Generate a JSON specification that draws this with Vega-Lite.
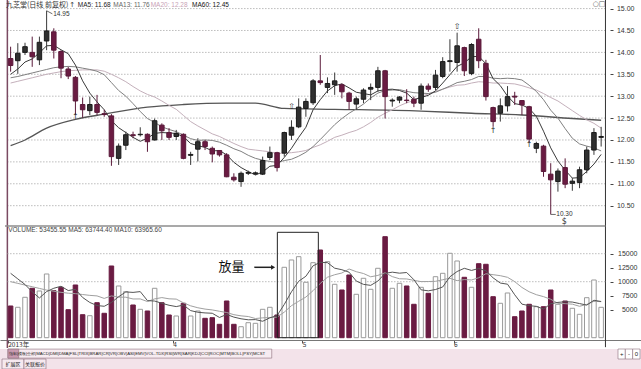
{
"$schema": "https://vega.github.io/schema/vega-lite/v6.json",
"width": 641, "height": 369,
"autosize": {"type": "none"},
"padding": 0,
"background": "#ffffff",
"config": {"view": {"stroke": null}, "font": "Liberation Sans"},
"datasets": {
"k": [
{"i":0,"o":13.86,"h":14.13,"l":13.56,"c":13.70,"v":5662,"m5":13.50,"m13":13.42,"m20":13.30,"a5":11500,"a10":10000},
{"i":1,"o":13.81,"h":14.21,"l":13.51,"c":13.98,"v":5430,"m5":13.62,"m13":13.45,"m20":13.34,"a5":10500,"a10":9700},
{"i":2,"o":14.00,"h":14.22,"l":13.94,"c":14.13,"v":7215,"m5":13.78,"m13":13.49,"m20":13.38,"a5":9500,"a10":9400},
{"i":3,"o":14.00,"h":14.36,"l":13.67,"c":13.90,"v":8823,"m5":13.85,"m13":13.53,"m20":13.42,"a5":8200,"a10":9100},
{"i":4,"o":13.83,"h":14.36,"l":13.71,"c":14.23,"v":8340,"m5":13.99,"m13":13.57,"m20":13.46,"a5":7094,"a10":8800},
{"i":5,"o":14.26,"h":14.95,"l":14.05,"c":14.49,"v":11377,"m5":14.15,"m13":13.61,"m20":13.50,"a5":8237,"a10":8500},
{"i":6,"o":14.47,"h":14.55,"l":13.86,"c":14.05,"v":8394,"m5":14.16,"m13":13.65,"m20":13.53,"a5":8830,"a10":8300},
{"i":7,"o":14.02,"h":14.05,"l":13.41,"c":13.64,"v":9000,"m5":14.06,"m13":13.67,"m20":13.56,"a5":9187,"a10":8100},
{"i":8,"o":13.62,"h":13.67,"l":13.39,"c":13.46,"v":5000,"m5":13.97,"m13":13.68,"m20":13.58,"a5":8422,"a10":7950},
{"i":9,"o":13.43,"h":13.46,"l":12.57,"c":12.89,"v":9412,"m5":13.71,"m13":13.67,"m20":13.59,"a5":8637,"a10":7865},
{"i":10,"o":12.81,"h":12.97,"l":12.51,"c":12.69,"v":4108,"m5":13.35,"m13":13.64,"m20":13.60,"a5":7183,"a10":7710},
{"i":11,"o":12.67,"h":12.99,"l":12.57,"c":12.81,"v":3929,"m5":13.07,"m13":13.61,"m20":13.60,"a5":6290,"a10":7560},
{"i":12,"o":12.81,"h":13.03,"l":12.57,"c":12.63,"v":6251,"m5":12.87,"m13":13.57,"m20":13.60,"a5":5740,"a10":7463},
{"i":13,"o":12.60,"h":12.69,"l":12.53,"c":12.58,"v":4358,"m5":12.69,"m13":13.49,"m20":13.57,"a5":5612,"a10":7017},
{"i":14,"o":12.55,"h":12.59,"l":11.41,"c":11.62,"v":12805,"m5":12.44,"m13":13.31,"m20":13.50,"a5":6290,"a10":7463},
{"i":15,"o":11.58,"h":11.92,"l":11.43,"c":11.86,"v":9234,"m5":12.28,"m13":13.13,"m20":13.42,"a5":7315,"a10":7249},
{"i":16,"o":11.88,"h":12.19,"l":11.77,"c":12.12,"v":8216,"m5":12.17,"m13":13.00,"m20":13.33,"a5":8173,"a10":7231},
{"i":17,"o":12.12,"h":12.19,"l":12.04,"c":12.10,"v":5840,"m5":12.06,"m13":12.83,"m20":13.22,"a5":8091,"a10":6915},
{"i":18,"o":12.12,"h":12.29,"l":12.08,"c":12.13,"v":5072,"m5":11.97,"m13":12.65,"m20":13.12,"a5":8233,"a10":6923},
{"i":19,"o":12.13,"h":12.15,"l":11.73,"c":11.96,"v":4769,"m5":12.04,"m13":12.49,"m20":13.04,"a5":6626,"a10":6458},
{"i":20,"o":12.00,"h":12.49,"l":11.99,"c":12.44,"v":8823,"m5":12.15,"m13":12.40,"m20":12.98,"a5":6544,"a10":6930},
{"i":21,"o":12.34,"h":12.38,"l":12.00,"c":12.21,"v":6251,"m5":12.17,"m13":12.30,"m20":12.89,"a5":6151,"a10":7162},
{"i":22,"o":12.17,"h":12.27,"l":12.00,"c":12.06,"v":4054,"m5":12.16,"m13":12.24,"m20":12.79,"a5":5794,"a10":6942},
{"i":23,"o":12.08,"h":12.23,"l":12.00,"c":12.15,"v":3876,"m5":12.15,"m13":12.19,"m20":12.70,"a5":5555,"a10":6894},
{"i":24,"o":12.13,"h":12.15,"l":11.56,"c":11.58,"v":6144,"m5":12.07,"m13":12.11,"m20":12.56,"a5":5830,"a10":6228},
{"i":25,"o":11.65,"h":11.73,"l":11.43,"c":11.67,"v":3876,"m5":11.92,"m13":12.03,"m20":12.42,"a5":4840,"a10":5692},
{"i":26,"o":11.79,"h":12.04,"l":11.51,"c":11.96,"v":4769,"m5":11.87,"m13":11.99,"m20":12.32,"a5":4544,"a10":5347},
{"i":27,"o":11.96,"h":12.00,"l":11.77,"c":11.85,"v":3465,"m5":11.83,"m13":12.00,"m20":12.23,"a5":4426,"a10":5110},
{"i":28,"o":11.81,"h":11.85,"l":11.49,"c":11.68,"v":3572,"m5":11.75,"m13":11.99,"m20":12.14,"a5":4365,"a10":4960},
{"i":29,"o":11.76,"h":11.77,"l":11.62,"c":11.66,"v":2393,"m5":11.76,"m13":11.95,"m20":12.08,"a5":3615,"a10":4722},
{"i":30,"o":11.66,"h":11.70,"l":11.15,"c":11.16,"v":6555,"m5":11.66,"m13":11.88,"m20":12.00,"a5":4151,"a10":4496},
{"i":31,"o":11.15,"h":11.24,"l":11.05,"c":11.09,"v":2393,"m5":11.49,"m13":11.80,"m20":11.92,"a5":3676,"a10":4110},
{"i":32,"o":11.05,"h":11.28,"l":10.93,"c":11.24,"v":1965,"m5":11.37,"m13":11.74,"m20":11.85,"a5":3376,"a10":3901},
{"i":33,"o":11.24,"h":11.30,"l":11.20,"c":11.26,"v":2679,"m5":11.28,"m13":11.65,"m20":11.79,"a5":3197,"a10":3781},
{"i":34,"o":11.23,"h":11.28,"l":11.20,"c":11.25,"v":2572,"m5":11.20,"m13":11.58,"m20":11.77,"a5":3233,"a10":3424},
{"i":35,"o":11.22,"h":11.62,"l":11.20,"c":11.53,"v":5072,"m5":11.27,"m13":11.54,"m20":11.75,"a5":2936,"a10":3544},
{"i":36,"o":11.60,"h":11.85,"l":11.54,"c":11.71,"v":5430,"m5":11.40,"m13":11.51,"m20":11.73,"a5":3544,"a10":3610},
{"i":37,"o":11.71,"h":11.73,"l":11.28,"c":11.37,"v":4054,"m5":11.42,"m13":11.49,"m20":11.69,"a5":3961,"a10":3669},
{"i":38,"o":11.70,"h":12.19,"l":11.62,"c":12.17,"v":12573,"m5":11.60,"m13":11.53,"m20":11.70,"a5":5940,"a10":4569},
{"i":39,"o":12.11,"h":12.45,"l":12.00,"c":12.29,"v":13877,"m5":11.81,"m13":11.56,"m20":11.71,"a5":8201,"a10":5717},
{"i":40,"o":12.30,"h":12.95,"l":12.27,"c":12.75,"v":14467,"m5":12.06,"m13":11.63,"m20":11.73,"a5":10080,"a10":6508},
{"i":41,"o":12.72,"h":12.95,"l":12.53,"c":12.88,"v":9894,"m5":12.29,"m13":11.72,"m20":11.76,"a5":10973,"a10":7258},
{"i":42,"o":12.85,"h":13.39,"l":12.80,"c":13.35,"v":13395,"m5":12.69,"m13":11.85,"m20":11.83,"a5":12841,"a10":8401},
{"i":43,"o":13.35,"h":13.94,"l":13.26,"c":13.31,"v":15663,"m5":12.92,"m13":12.01,"m20":11.89,"a5":13459,"a10":9700},
{"i":44,"o":13.20,"h":13.43,"l":13.07,"c":13.29,"v":13574,"m5":13.12,"m13":12.18,"m20":11.97,"a5":13399,"a10":10800},
{"i":45,"o":13.26,"h":13.54,"l":13.03,"c":13.35,"v":9537,"m5":13.24,"m13":12.35,"m20":12.06,"a5":12413,"a10":11246},
{"i":46,"o":13.26,"h":13.29,"l":12.95,"c":13.10,"v":8519,"m5":13.28,"m13":12.49,"m20":12.11,"a5":12138,"a10":11555},
{"i":47,"o":13.07,"h":13.10,"l":12.69,"c":12.88,"v":11198,"m5":13.19,"m13":12.61,"m20":12.17,"a5":11698,"a10":12270},
{"i":48,"o":12.82,"h":12.99,"l":12.69,"c":12.94,"v":7751,"m5":13.09,"m13":12.71,"m20":12.22,"a5":10116,"a10":11788},
{"i":49,"o":12.93,"h":13.18,"l":12.84,"c":13.14,"v":10609,"m5":13.06,"m13":12.82,"m20":12.30,"a5":9523,"a10":11461},
{"i":50,"o":13.16,"h":13.29,"l":12.91,"c":13.20,"v":8644,"m5":13.03,"m13":12.96,"m20":12.40,"a5":9344,"a10":10878},
{"i":51,"o":13.20,"h":13.67,"l":13.10,"c":13.58,"v":12395,"m5":13.12,"m13":13.07,"m20":12.52,"a5":10119,"a10":11129},
{"i":52,"o":13.58,"h":13.60,"l":12.49,"c":12.99,"v":18039,"m5":13.15,"m13":13.13,"m20":12.61,"a5":11488,"a10":11593},
{"i":53,"o":12.89,"h":12.95,"l":12.76,"c":12.91,"v":8823,"m5":13.16,"m13":13.14,"m20":12.69,"a5":11702,"a10":10909},
{"i":54,"o":12.91,"h":13.00,"l":12.84,"c":12.98,"v":9716,"m5":13.13,"m13":13.15,"m20":12.78,"a5":11523,"a10":10523},
{"i":55,"o":12.91,"h":13.16,"l":12.84,"c":12.90,"v":9234,"m5":13.07,"m13":13.11,"m20":12.85,"a5":11641,"a10":10493},
{"i":56,"o":12.93,"h":12.99,"l":12.75,"c":12.84,"v":5965,"m5":12.92,"m13":13.08,"m20":12.90,"a5":10355,"a10":10237},
{"i":57,"o":12.84,"h":13.29,"l":12.69,"c":13.23,"v":9000,"m5":12.97,"m13":13.07,"m20":13.00,"a5":8548,"a10":10018},
{"i":58,"o":13.23,"h":13.29,"l":13.10,"c":13.16,"v":7925,"m5":13.02,"m13":13.06,"m20":13.05,"a5":8368,"a10":10035},
{"i":59,"o":13.20,"h":13.60,"l":13.14,"c":13.48,"v":10895,"m5":13.12,"m13":13.09,"m20":13.11,"a5":8604,"a10":10064},
{"i":60,"o":13.45,"h":13.89,"l":13.41,"c":13.79,"v":11500,"m5":13.30,"m13":13.16,"m20":13.16,"a5":9057,"a10":10349},
{"i":61,"o":13.79,"h":14.30,"l":13.56,"c":13.81,"v":15074,"m5":13.49,"m13":13.23,"m20":13.21,"a5":10879,"a10":10617},
{"i":62,"o":13.77,"h":14.45,"l":13.56,"c":14.15,"v":13699,"m5":13.68,"m13":13.31,"m20":13.25,"a5":11819,"a10":10183},
{"i":63,"o":14.11,"h":14.13,"l":13.46,"c":13.58,"v":10787,"m5":13.76,"m13":13.34,"m20":13.26,"a5":12391,"a10":10380},
{"i":64,"o":13.52,"h":14.21,"l":13.48,"c":14.18,"v":9001,"m5":13.90,"m13":13.38,"m20":13.30,"a5":12012,"a10":10308},
{"i":65,"o":14.30,"h":14.55,"l":13.64,"c":13.81,"v":13216,"m5":13.91,"m13":13.45,"m20":13.33,"a5":12355,"a10":10706},
{"i":66,"o":13.75,"h":13.83,"l":12.90,"c":12.99,"v":13109,"m5":13.74,"m13":13.45,"m20":13.32,"a5":11962,"a10":11421},
{"i":67,"o":12.74,"h":12.76,"l":12.30,"c":12.42,"v":7323,"m5":13.40,"m13":13.41,"m20":13.30,"a5":10687,"a10":11253},
{"i":68,"o":12.61,"h":12.95,"l":12.42,"c":12.78,"v":6144,"m5":13.24,"m13":13.40,"m20":13.30,"a5":9759,"a10":11075},
{"i":69,"o":12.78,"h":13.23,"l":12.65,"c":12.99,"v":7983,"m5":13.00,"m13":13.41,"m20":13.29,"a5":9555,"a10":10784},
{"i":70,"o":13.00,"h":13.10,"l":12.80,"c":12.98,"v":3751,"m5":12.83,"m13":13.40,"m20":13.28,"a5":7662,"a10":10009},
{"i":71,"o":12.90,"h":12.91,"l":12.57,"c":12.80,"v":4769,"m5":12.80,"m13":13.37,"m20":13.24,"a5":5994,"a10":8978},
{"i":72,"o":12.76,"h":12.78,"l":11.94,"c":12.02,"v":5965,"m5":12.72,"m13":13.25,"m20":13.19,"a5":5722,"a10":8205},
{"i":73,"o":11.81,"h":11.96,"l":11.70,"c":11.92,"v":5537,"m5":12.54,"m13":13.11,"m20":13.14,"a5":5601,"a10":7680},
{"i":74,"o":11.86,"h":11.89,"l":11.16,"c":11.28,"v":5537,"m5":12.20,"m13":12.92,"m20":13.06,"a5":5112,"a10":7333},
{"i":75,"o":11.22,"h":11.47,"l":10.30,"c":11.09,"v":8519,"m5":11.82,"m13":12.68,"m20":12.97,"a5":6065,"a10":6864},
{"i":76,"o":11.05,"h":11.35,"l":10.82,"c":11.29,"v":5965,"m5":11.52,"m13":12.50,"m20":12.89,"a5":6305,"a10":6149},
{"i":77,"o":11.37,"h":11.58,"l":10.90,"c":10.99,"v":6555,"m5":11.31,"m13":12.26,"m20":12.78,"a5":6423,"a10":6079},
{"i":78,"o":11.01,"h":11.13,"l":10.84,"c":11.06,"v":5251,"m5":11.13,"m13":12.04,"m20":12.67,"a5":6365,"a10":5989},
{"i":79,"o":11.03,"h":11.39,"l":10.90,"c":11.32,"v":4179,"m5":11.14,"m13":11.91,"m20":12.56,"a5":6094,"a10":5608},
{"i":80,"o":11.32,"h":11.85,"l":11.24,"c":11.77,"v":7144,"m5":11.28,"m13":11.86,"m20":12.46,"a5":5819,"a10":5947},
{"i":81,"o":11.77,"h":12.27,"l":11.66,"c":12.17,"v":10305,"m5":11.45,"m13":11.82,"m20":12.38,"a5":6687,"a10":6490},
{"i":82,"o":12.06,"h":12.30,"l":11.85,"c":12.08,"v":5429,"m5":11.67,"m13":11.75,"m20":12.27,"a5":6462,"a10":6437}
],
"m60": [
{"i":0,"m":11.87},{"i":2,"m":12.0},{"i":5,"m":12.27},{"i":9,"m":12.47},{"i":13,"m":12.59},{"i":19,"m":12.75},{"i":24,"m":12.81},{"i":30,"m":12.84},{"i":34,"m":12.84},{"i":38,"m":12.72},{"i":45,"m":12.70},{"i":57,"m":12.66},{"i":64,"m":12.61},{"i":71,"m":12.57},{"i":78,"m":12.49},{"i":82,"m":12.45}
],
"pgrid": [{"p":10.5},{"p":11},{"p":11.5},{"p":12},{"p":12.5},{"p":13},{"p":13.5},{"p":14},{"p":14.5},{"p":15}],
"vgrid": [{"g":10000},{"g":15000}],
"mk": [
{"i":9,"p":12.52,"g":"↑"},{"i":39,"p":12.75,"g":"⇧"},{"i":62,"p":14.59,"g":"⇧"},{"i":67,"p":12.21,"g":"↑"},{"i":72,"p":11.885,"g":"↑"},{"i":76.9,"p":10.135,"g":"$"}
],
"rows": [{"row":"tabs"},{"row":"ext"}],
"ext": [{"name":"扩展区","row":"ext"},{"name":"关联报价","row":"ext"}],
"btn": [{"name":"+","row":"tabs"},{"name":"-","row":"tabs"},{"name":"0","row":"tabs"}]
},
"layer": [
{
"layer": [
{"data": {"name": "rows"},
 "mark": {"type": "rule", "strokeWidth": 10, "color": "#f3e3ea"},
 "encoding": {"y": {"field": "row", "type": "nominal", "sort": null, "scale": {"domain": ["tabs", "ext"], "range": [349, 369], "paddingInner": 0, "paddingOuter": 0}, "axis": null}}},
{"data": {"name": "ext"},
 "encoding": {"x": {"field": "name", "type": "nominal", "sort": null, "scale": {"range": [2, 46], "paddingInner": 0, "paddingOuter": 0}, "axis": null},
   "y": {"field": "row", "type": "nominal", "axis": null}},
 "layer": [
  {"mark": {"type": "rect", "stroke": "#8b6b7b", "strokeWidth": 0.6, "fill": "#f6e9ef"}},
  {"mark": {"type": "text", "fontSize": 5, "font": "Noto Sans CJK SC", "color": "#222222"},
   "encoding": {"text": {"field": "name"}}}
 ]},
{"data": {"name": "btn"},
 "encoding": {"x": {"field": "name", "type": "nominal", "sort": null, "scale": {"range": [618, 640], "paddingInner": 0, "paddingOuter": 0}, "axis": null},
   "y": {"field": "row", "type": "nominal", "axis": null}},
 "layer": [
  {"mark": {"type": "rect", "stroke": "#8b6b7b", "strokeWidth": 0.6, "fill": "#ffffff"}},
  {"mark": {"type": "text", "fontSize": 6, "color": "#222222"},
   "encoding": {"text": {"field": "name"}}}
 ]}
],
"resolve": {"scale": {"x": "independent"}}
},
{
"layer": [
{"data": {"name": "pgrid"},
 "mark": {"type": "rule", "strokeDash": [1, 2], "color": "#9a9a9a", "strokeWidth": 1},
 "encoding": {
  "y": {"field": "p", "type": "quantitative", "title": null, "scale": {"domain": [6.771, 15.196], "nice": false, "zero": false},
        "axis": {"orient": "right", "offset": -31, "values": [10.5,11,11.5,12,12.5,13,13.5,14,14.5,15], "format": ".2f", "grid": false, "domain": false, "tickSize": 3, "tickColor": "#444", "labelFontSize": 7, "labelColor": "#333", "labelAlign": "right", "labelPadding": 21, "labelBaseline": "middle"}},
  "x": {"datum": -0.45, "type": "quantitative", "scale": {"domain": [-0.779, 86.84], "nice": false, "zero": false}, "axis": null},
  "x2": {"datum": 82.6}}},
{"data": {"values": [{}]},
 "mark": {"type": "rule", "color": "#7a4a62", "strokeWidth": 1.5},
 "encoding": {"x": {"datum": -0.45, "type": "quantitative"}, "y": {"datum": 15.196, "type": "quantitative"}, "y2": {"datum": 7.25}}},
{"data": {"values": [{}]},
 "mark": {"type": "rule", "color": "#333333", "strokeWidth": 1},
 "encoding": {"x": {"datum": 82.6, "type": "quantitative"}, "y": {"datum": 15.196, "type": "quantitative"}, "y2": {"datum": 7.27}}},
{"data": {"values": [{}]},
 "mark": {"type": "rule", "color": "#8c8c8c", "strokeWidth": 1.5},
 "encoding": {"x": {"datum": -0.779, "type": "quantitative"}, "x2": {"datum": 82.6}, "y": {"datum": 10.036, "type": "quantitative"}}},
{"data": {"name": "m60"},
 "mark": {"type": "line", "color": "#555555", "strokeWidth": 1.3, "interpolate": "monotone"},
 "encoding": {"x": {"field": "i", "type": "quantitative", "title": null}, "y": {"field": "m", "type": "quantitative", "title": null}}},
{"data": {"name": "k"},
 "mark": {"type": "line", "color": "#c4b0bb", "strokeWidth": 1},
 "encoding": {"x": {"field": "i", "type": "quantitative", "title": null}, "y": {"field": "m20", "type": "quantitative", "title": null}}},
{"data": {"name": "k"},
 "mark": {"type": "line", "color": "#808080", "strokeWidth": 1},
 "encoding": {"x": {"field": "i", "type": "quantitative", "title": null}, "y": {"field": "m13", "type": "quantitative", "title": null}}},
{"data": {"name": "k"},
 "mark": {"type": "line", "color": "#3a3a3a", "strokeWidth": 1},
 "encoding": {"x": {"field": "i", "type": "quantitative", "title": null}, "y": {"field": "m5", "type": "quantitative", "title": null}}},
{"data": {"name": "k"},
 "mark": {"type": "rule", "strokeWidth": 1},
 "encoding": {"x": {"field": "i", "type": "quantitative", "title": null}, "y": {"field": "l", "type": "quantitative", "title": null}, "y2": {"field": "h"},
   "color": {"condition": {"test": "datum.c >= datum.o", "value": "#3a3a3a"}, "value": "#5a1a3a"}}},
{"data": {"name": "k"},
 "mark": {"type": "bar", "width": 4.5, "strokeWidth": 1},
 "encoding": {"x": {"field": "i", "type": "quantitative", "title": null}, "y": {"field": "o", "type": "quantitative", "title": null}, "y2": {"field": "c"},
   "fill": {"condition": {"test": "datum.c >= datum.o", "value": "#303030"}, "value": "#6a1b42"},
   "stroke": {"condition": {"test": "datum.c >= datum.o", "value": "#1a1a1a"}, "value": "#5a1a3a"}}},
{"data": {"name": "mk"},
 "mark": {"type": "text", "fontSize": 8, "font": "DejaVu Sans", "color": "#333333", "baseline": "middle", "align": "center"},
 "encoding": {"x": {"field": "i", "type": "quantitative", "title": null}, "y": {"field": "p", "type": "quantitative", "title": null}, "text": {"field": "g"}}},
{"data": {"values": [{}]},
 "mark": {"type": "rule", "color": "#444444", "strokeWidth": 0.8},
 "encoding": {"x": {"datum": 5, "type": "quantitative"}, "x2": {"datum": 5.8}, "y": {"datum": 14.95, "type": "quantitative"}, "y2": {"datum": 14.88}}},
{"data": {"values": [{"t": "14.95"}]},
 "mark": {"type": "text", "fontSize": 6.5, "color": "#333333", "align": "left", "baseline": "middle"},
 "encoding": {"x": {"datum": 5.92, "type": "quantitative"}, "y": {"datum": 14.876, "type": "quantitative"}, "text": {"field": "t"}}},
{"data": {"values": [{}]},
 "mark": {"type": "rule", "color": "#444444", "strokeWidth": 0.8},
 "encoding": {"x": {"datum": 75, "type": "quantitative"}, "x2": {"datum": 75.7}, "y": {"datum": 10.30, "type": "quantitative"}}},
{"data": {"values": [{"t": "10.30"}]},
 "mark": {"type": "text", "fontSize": 6.5, "color": "#333333", "align": "left", "baseline": "middle"},
 "encoding": {"x": {"datum": 75.77, "type": "quantitative"}, "y": {"datum": 10.303, "type": "quantitative"}, "text": {"field": "t"}}},
{"data": {"values": [{"t": "九芝堂(日线 前复权)"}]},
 "mark": {"type": "text", "fontSize": 7, "font": "Noto Sans CJK SC", "color": "#333333", "align": "left", "baseline": "middle"},
 "encoding": {"x": {"datum": -0.64, "type": "quantitative"}, "y": {"datum": 15.082, "type": "quantitative"}, "text": {"field": "t"}}},
{"data": {"values": [{"t": "↑"}]},
 "mark": {"type": "text", "fontSize": 7, "font": "DejaVu Sans", "color": "#333333", "align": "center", "baseline": "middle"},
 "encoding": {"x": {"datum": 8.56, "type": "quantitative"}, "y": {"datum": 15.082, "type": "quantitative"}, "text": {"field": "t"}}},
{"data": {"values": [{"t": "MA5: 11.68"}]},
 "mark": {"type": "text", "fontSize": 6.5, "color": "#222222", "align": "left", "baseline": "middle"},
 "encoding": {"x": {"datum": 9.34, "type": "quantitative"}, "y": {"datum": 15.082, "type": "quantitative"}, "text": {"field": "t"}}},
{"data": {"values": [{"t": "MA13: 11.76"}]},
 "mark": {"type": "text", "fontSize": 6.5, "color": "#666666", "align": "left", "baseline": "middle"},
 "encoding": {"x": {"datum": 14.26, "type": "quantitative"}, "y": {"datum": 15.082, "type": "quantitative"}, "text": {"field": "t"}}},
{"data": {"values": [{"t": "MA20: 12.28"}]},
 "mark": {"type": "text", "fontSize": 6.5, "color": "#c9a3b6", "align": "left", "baseline": "middle"},
 "encoding": {"x": {"datum": 19.45, "type": "quantitative"}, "y": {"datum": 15.082, "type": "quantitative"}, "text": {"field": "t"}}},
{"data": {"values": [{"t": "MA60: 12.45"}]},
 "mark": {"type": "text", "fontSize": 6.5, "color": "#111111", "align": "left", "baseline": "middle"},
 "encoding": {"x": {"datum": 25.19, "type": "quantitative"}, "y": {"datum": 15.082, "type": "quantitative"}, "text": {"field": "t"}}},
{"data": {"values": [{"t": "○□"}]},
 "mark": {"type": "text", "fontSize": 7, "font": "DejaVu Sans", "color": "#555555", "align": "left", "baseline": "middle"},
 "encoding": {"x": {"datum": 80.82, "type": "quantitative"}, "y": {"datum": 15.105, "type": "quantitative"}, "text": {"field": "t"}}}
]
},
{
"layer": [
{"data": {"name": "vgrid"},
 "mark": {"type": "rule", "strokeDash": [1, 2], "color": "#9a9a9a", "strokeWidth": 1},
 "encoding": {
  "y": {"field": "g", "type": "quantitative", "title": null, "scale": {"domain": [-5589, 60303], "nice": false, "zero": false},
        "axis": {"orient": "right", "offset": -31, "values": [5000,7500,10000,12500,15000], "format": "d", "grid": false, "domain": false, "tickSize": 3, "tickColor": "#444", "labelFontSize": 7, "labelColor": "#333", "labelAlign": "right", "labelPadding": 24, "labelBaseline": "middle"}},
  "x": {"datum": -0.45, "type": "quantitative", "scale": {"domain": [-0.779, 86.84], "nice": false, "zero": false}},
  "x2": {"datum": 82.6}}},
{"data": {"name": "k"},
 "mark": {"type": "bar", "width": 4.5, "strokeWidth": 1},
 "encoding": {
  "x": {"field": "i", "type": "quantitative", "title": null,
        "axis": {"orient": "bottom", "offset": -29, "values": [-0.4, 22.5, 40.5, 61.5], "labelExpr": "datum.value < 0 ? '2013年' : datum.value < 30 ? '4' : datum.value < 50 ? '5' : '6'", "domain": true, "domainColor": "#777777", "domainWidth": 1, "ticks": true, "tickSize": 3, "tickColor": "#555555", "labelFontSize": 6.5, "labelColor": "#333333", "labelAlign": "left", "labelBaseline": "top", "labelPadding": -2, "labelFont": "Noto Sans CJK SC", "grid": false, "labelFlush": false, "labelOverlap": false}},
  "y": {"field": "v", "type": "quantitative", "title": null}, "y2": {"datum": 0},
  "fill": {"condition": {"test": "datum.c >= datum.o", "value": "#ffffff"}, "value": "#6a1b42"},
  "stroke": {"condition": {"test": "datum.c >= datum.o", "value": "#9a9a9a"}, "value": "#6a1b42"}}},
{"data": {"name": "k"},
 "mark": {"type": "line", "color": "#a0a0a0", "strokeWidth": 1},
 "encoding": {"x": {"field": "i", "type": "quantitative"}, "y": {"field": "a10", "type": "quantitative", "title": null}}},
{"data": {"name": "k"},
 "mark": {"type": "line", "color": "#555555", "strokeWidth": 1},
 "encoding": {"x": {"field": "i", "type": "quantitative"}, "y": {"field": "a5", "type": "quantitative", "title": null}}},
{"data": {"values": [{}]},
 "mark": {"type": "rect", "filled": false, "stroke": "#222222", "strokeWidth": 1},
 "encoding": {"x": {"datum": 37.04, "type": "quantitative"}, "x2": {"datum": 42.73}, "y": {"datum": 18821, "type": "quantitative"}, "y2": {"datum": 0}}},
{"data": {"values": [{}]},
 "mark": {"type": "rule", "color": "#222222", "strokeWidth": 1.5},
 "encoding": {"x": {"datum": 33.84, "type": "quantitative"}, "x2": {"datum": 36.3}, "y": {"datum": 12571, "type": "quantitative"}}},
{"data": {"values": [{}]},
 "mark": {"type": "point", "shape": "triangle-right", "filled": true, "color": "#222222", "size": 22, "opacity": 1},
 "encoding": {"x": {"datum": 36.45, "type": "quantitative"}, "y": {"datum": 12571, "type": "quantitative"}}},
{"data": {"values": [{"t": "放量"}]},
 "mark": {"type": "text", "fontSize": 13, "font": "Noto Sans CJK SC", "color": "#111111", "align": "center", "baseline": "middle"},
 "encoding": {"x": {"datum": 30.66, "type": "quantitative"}, "y": {"datum": 12536, "type": "quantitative"}, "text": {"field": "t"}}},
{"data": {"values": [{"t": "VOLUME: 53455.55  MA5: 63744.40  MA10: 63965.60"}]},
 "mark": {"type": "text", "fontSize": 6.5, "color": "#444444", "align": "left", "baseline": "middle"},
 "encoding": {"x": {"datum": -0.33, "type": "quantitative"}, "y": {"datum": 19232, "type": "quantitative"}, "text": {"field": "t"}}},
{"data": {"values": [{}]},
 "mark": {"type": "rect", "fill": "#f7ecf1", "stroke": "#8b6b7b", "strokeWidth": 0.6},
 "encoding": {"x": {"datum": -0.37, "type": "quantitative"}, "x2": {"datum": 36.26}, "y": {"datum": -2036, "type": "quantitative"}, "y2": {"datum": -3643}}},
{"data": {"values": [{}]},
 "mark": {"type": "rect", "fill": "#c99ab0", "stroke": "#8b6b7b", "strokeWidth": 0.6},
 "encoding": {"x": {"datum": -0.37, "type": "quantitative"}, "x2": {"datum": 1.13}, "y": {"datum": -2036, "type": "quantitative"}, "y2": {"datum": -3643}}},
{"data": {"values": [{"t": "指标|模板|全部|MACD|DMI|DMA|FSL|TRIX|BRAR|CR|VR|OBV|ASI|EMV|VOL-TDX|RSI|WR|SAR|KDJ|CCI|ROC|MTM|BOLL|PSY|MCST"}]},
 "mark": {"type": "text", "fontSize": 4.3, "font": "Liberation Sans", "color": "#222222", "align": "left", "baseline": "middle"},
 "encoding": {"x": {"datum": -0.25, "type": "quantitative"}, "y": {"datum": -2840, "type": "quantitative"}, "text": {"field": "t"}}}
]
}
],
"resolve": {"scale": {"x": "independent", "y": "independent"}, "axis": {"x": "independent", "y": "independent"}}
}
